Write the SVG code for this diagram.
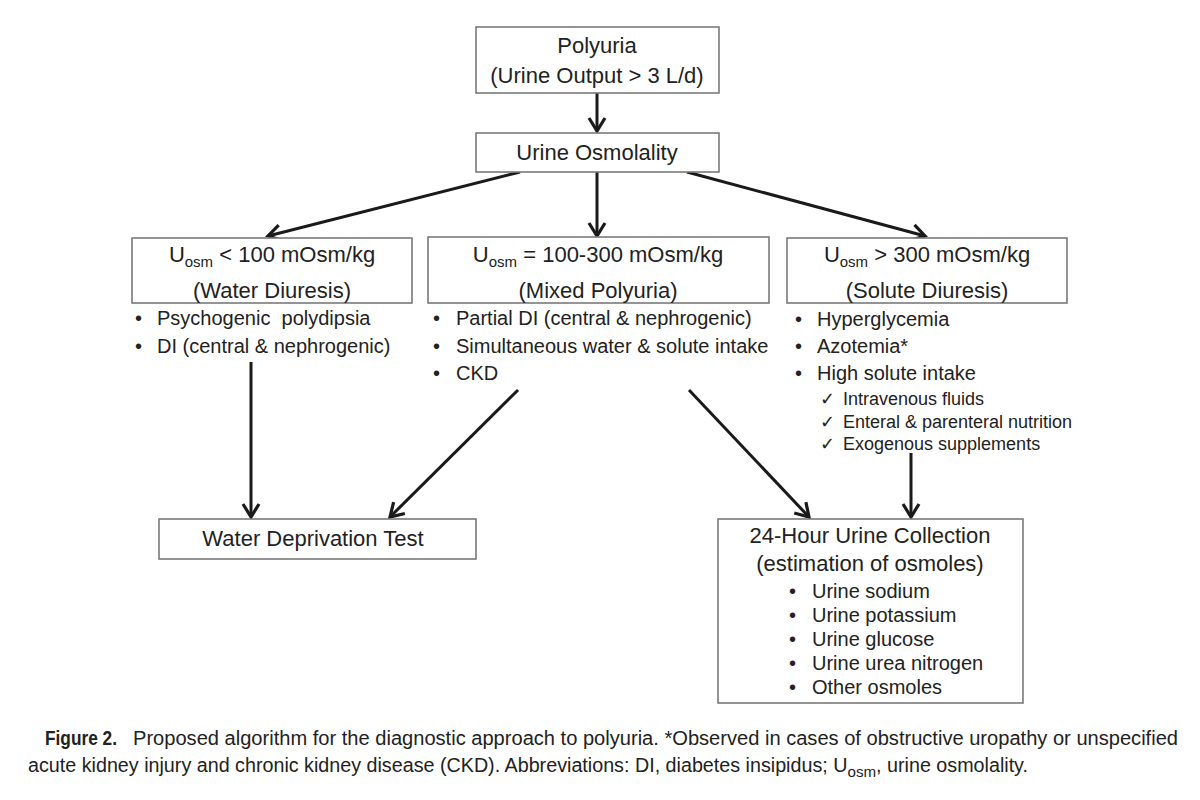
<svg xmlns="http://www.w3.org/2000/svg" width="1200" height="800" viewBox="0 0 1200 800">
<style>
.box{fill:#fff;stroke:#7a7a7a;stroke-width:1.6}
.h{font-family:"Liberation Sans",Arial,sans-serif;font-size:22px;fill:#222;text-anchor:middle}
.b{font-family:"Liberation Sans",Arial,sans-serif;font-size:20px;fill:#222}
.c{font-family:"Liberation Sans",Arial,sans-serif;font-size:18px;fill:#222}
.cap{font-family:"Liberation Sans",Arial,sans-serif;font-size:19.5px;fill:#222}
.sub{font-size:15px}
.conn line{stroke:#1a1a1a;stroke-width:3;marker-end:url(#arr)}
</style>
<defs>
<marker id="arr" markerUnits="userSpaceOnUse" viewBox="0 0 20 20" markerWidth="20" markerHeight="20" refX="17" refY="10" orient="auto">
<path d="M4,2 L17,10 L4,18" fill="none" stroke="#1a1a1a" stroke-width="3.2" stroke-linejoin="miter"/>
</marker>
</defs>
<rect width="1200" height="800" fill="#fff"/>

<g id="connectors" class="conn">
<line x1="597" y1="93" x2="597" y2="131"/>
<line x1="520" y1="172" x2="268" y2="236"/>
<line x1="597" y1="172" x2="597" y2="236"/>
<line x1="687" y1="172" x2="925" y2="236"/>
<line x1="251" y1="362" x2="251" y2="517"/>
<line x1="518" y1="390" x2="390" y2="517"/>
<line x1="689" y1="390" x2="809" y2="517"/>
<line x1="911" y1="453" x2="911" y2="517"/>
</g>

<g id="polyuria">
<rect class="box" x="476" y="27" width="243" height="66"/>
<text class="h" x="597" y="53">Polyuria</text>
<text class="h" x="597" y="83">(Urine Output &gt; 3 L/d)</text>
</g>

<g id="urine-osmolality">
<rect class="box" x="476" y="133" width="243" height="39"/>
<text class="h" x="597" y="160">Urine Osmolality</text>
</g>

<g id="water-diuresis">
<rect class="box" x="132" y="238" width="280" height="65"/>
<text class="h" x="272" y="262">U<tspan class="sub" dy="5">osm</tspan><tspan dy="-5"> &lt; 100 mOsm/kg</tspan></text>
<text class="h" x="272" y="298">(Water Diuresis)</text>
<text class="b" x="135" y="325">•</text>
<text class="b" x="157" y="325">Psychogenic&#160; polydipsia</text>
<text class="b" x="135" y="353">•</text>
<text class="b" x="157" y="353">DI (central &amp; nephrogenic)</text>
</g>

<g id="mixed-polyuria">
<rect class="box" x="428" y="237" width="341" height="66"/>
<text class="h" x="598" y="262">U<tspan class="sub" dy="5">osm</tspan><tspan dy="-5"> = 100-300 mOsm/kg</tspan></text>
<text class="h" x="598" y="298">(Mixed Polyuria)</text>
<text class="b" x="433" y="325">•</text>
<text class="b" x="456" y="325">Partial DI (central &amp; nephrogenic)</text>
<text class="b" x="433" y="353">•</text>
<text class="b" x="456" y="353">Simultaneous water &amp; solute intake</text>
<text class="b" x="433" y="380">•</text>
<text class="b" x="456" y="380">CKD</text>
</g>

<g id="solute-diuresis">
<rect class="box" x="787" y="238" width="280" height="65"/>
<text class="h" x="927" y="262">U<tspan class="sub" dy="5">osm</tspan><tspan dy="-5"> &gt; 300 mOsm/kg</tspan></text>
<text class="h" x="927" y="298">(Solute Diuresis)</text>
<text class="b" x="795" y="326">•</text>
<text class="b" x="817" y="326">Hyperglycemia</text>
<text class="b" x="795" y="353">•</text>
<text class="b" x="817" y="353">Azotemia*</text>
<text class="b" x="795" y="380">•</text>
<text class="b" x="817" y="380">High solute intake</text>
<text class="c" x="820" y="405" font-size="15">✓</text>
<text class="c" x="843" y="405">Intravenous fluids</text>
<text class="c" x="820" y="428" font-size="15">✓</text>
<text class="c" x="843" y="428">Enteral &amp; parenteral nutrition</text>
<text class="c" x="820" y="450" font-size="15">✓</text>
<text class="c" x="843" y="450">Exogenous supplements</text>
</g>

<g id="water-deprivation-test">
<rect class="box" x="159" y="519" width="317" height="40"/>
<text class="h" x="313" y="546">Water Deprivation Test</text>
</g>

<g id="urine-collection">
<rect class="box" x="718" y="519" width="305" height="184"/>
<text class="h" x="870" y="543">24-Hour Urine Collection</text>
<text class="h" x="870" y="571">(estimation of osmoles)</text>
<text class="b" x="789" y="598">•</text>
<text class="b" x="812" y="598">Urine sodium</text>
<text class="b" x="789" y="622">•</text>
<text class="b" x="812" y="622">Urine potassium</text>
<text class="b" x="789" y="646">•</text>
<text class="b" x="812" y="646">Urine glucose</text>
<text class="b" x="789" y="670">•</text>
<text class="b" x="812" y="670">Urine urea nitrogen</text>
<text class="b" x="789" y="694">•</text>
<text class="b" x="812" y="694">Other osmoles</text>
</g>

<g id="caption">
<text class="cap" x="45" y="745" font-weight="bold" textLength="72" lengthAdjust="spacingAndGlyphs">Figure 2.</text>
<text class="cap" x="133" y="745" textLength="1045" lengthAdjust="spacingAndGlyphs">Proposed algorithm for the diagnostic approach to polyuria. *Observed in cases of obstructive uropathy or unspecified</text>
<text class="cap" x="28" y="772" textLength="1000" lengthAdjust="spacingAndGlyphs">acute kidney injury and chronic kidney disease (CKD). Abbreviations: DI, diabetes insipidus; U<tspan class="sub" dy="5">osm</tspan><tspan dy="-5">, urine osmolality.</tspan></text>
</g>
</svg>
